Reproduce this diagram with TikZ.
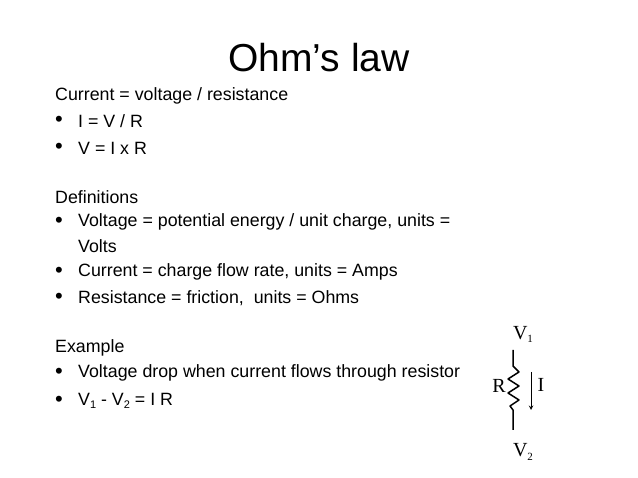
\documentclass[tikz,border=0pt]{standalone}
\usepackage{fontspec}
\setmainfont{Liberation Sans}
\newfontfamily\serifx{Liberation Serif}
\begin{document}
\begin{tikzpicture}[x=1pt,y=-1pt,
  body/.style={anchor=west,font=\fontsize{17.8}{20}\selectfont,inner sep=0pt},
  bul/.style={anchor=west,font=\fontsize{22}{20}\selectfont,inner sep=0pt},
  sym/.style={font=\serifx\fontsize{20}{22}\selectfont,inner sep=0pt}]
\useasboundingbox (0,0) rectangle (638,478);
\node[font=\fontsize{39}{42}\selectfont,inner sep=0pt] (title) at (319,58) {Ohm’s law};
\node[body] (l1) at (55,96) {Current = voltage / resistance};
\node[bul] (b1) at (55,121) {•};\node[body] (t1) at (78,121) {I = V / R};
\node[bul] (b2) at (55,148) {•};\node[body] (t2) at (78,148) {V = I x R};
\node[body] (l2) at (55,197) {Definitions};
\node[bul] (b3) at (55,222) {•};\node[body] (t3) at (78,222) {Voltage = potential energy / unit charge, units =};
\node[body] (t3b) at (78,246) {Volts};
\node[bul] (b4) at (55,272) {•};\node[body] (t4) at (78,272) {Current = charge flow rate, units = Amps};
\node[bul] (b5) at (55,298) {•};\node[body] (t5) at (78,298) {Resistance = friction,\ \ units = Ohms};
\node[body] (l3) at (55,348) {Example};
\node[bul] (b6) at (55,373) {•};\node[body] (t6) at (78,373) {Voltage drop when current flows through resistor};
\node[bul] (b7) at (55,401) {•};\node[body] (t7) at (78,401) {V{\fontsize{11}{12}\selectfont\raisebox{-3pt}{1}} - V{\fontsize{11}{12}\selectfont\raisebox{-3pt}{2}} = I R};
\node[sym] (v1) at (523,334) {V{\fontsize{11}{12}\selectfont\raisebox{-3pt}{1}}};
\node[sym] (v2) at (523,452) {V{\fontsize{11}{12}\selectfont\raisebox{-4pt}{2}}};
\node[sym] (r) at (499,386) {R};
\node[sym] (i) at (541,385) {I};
\coordinate (a) at (513,350);
\coordinate (b) at (513,430);
\draw[line width=1.5pt,line join=round] (a) -- (513,366) -- (519,372) -- (508,379) -- (519,386) -- (508,393) -- (519,400) -- (510,406) -- (513,410) -- (b);
\coordinate (p) at (531,372);
\coordinate (q) at (531,410);
\draw[line width=1pt,-stealth] (p) -- (q);
\end{tikzpicture}
\end{document}
